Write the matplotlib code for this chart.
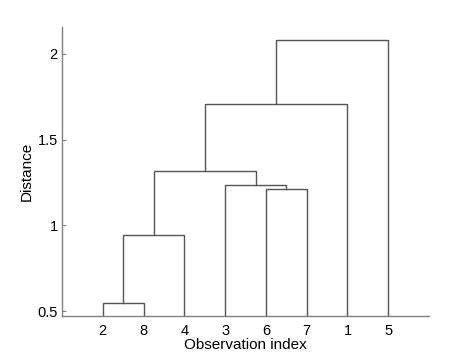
import matplotlib
matplotlib.use("Agg")
import matplotlib.pyplot as plt

plt.rcParams["font.family"] = ["Liberation Sans", "DejaVu Sans"]

# leaf order along the x axis (observation numbers)
leaf_order = [2, 8, 4, 3, 6, 7, 1, 5]

# merges: (left, right, height); "L<n>" = leaf n, "M<i>" = merge i
merges = [
    ("L2", "L8", 0.548),
    ("M0", "L4", 0.943),
    ("L6", "L7", 1.210),
    ("L3", "M2", 1.237),
    ("M1", "M3", 1.318),
    ("M4", "L1", 1.709),
    ("M5", "L5", 2.081),
]

leaf_x = {n: i + 1 for i, n in enumerate(leaf_order)}
node_pos = {}
for n in leaf_order:
    node_pos["L%d" % n] = (leaf_x[n], 0.0)

fig = plt.figure(figsize=(4.74, 3.55), dpi=100)
ax = fig.add_axes([0.1308, 0.1107, 0.7743, 0.8133])

line_col = "#555555"
for i, (a, b, h) in enumerate(merges):
    xa, ya = node_pos[a]
    xb, yb = node_pos[b]
    ax.plot([xa, xa, xb, xb], [ya, h, h, yb], color=line_col, lw=1.0,
            solid_joinstyle="miter", clip_on=True)
    node_pos["M%d" % i] = ((xa + xb) / 2.0, h)

ax.set_xlim(0, 9)
ax.set_ylim(0.4726, 2.1575)
ax.set_xticks(range(1, len(leaf_order) + 1))
ax.set_xticklabels([str(n) for n in leaf_order])
ax.set_yticks([0.5, 1, 1.5, 2])
ax.set_yticklabels(["0.5", "1", "1.5", "2"])

for s in ["top", "right"]:
    ax.spines[s].set_visible(False)
for s in ["left", "bottom"]:
    ax.spines[s].set_color("#808080")
    ax.spines[s].set_linewidth(1.0)

ax.tick_params(axis="both", direction="in", length=3, color="#808080",
               labelsize=10.5, labelcolor="black", pad=3)
ax.tick_params(axis="x", length=0, pad=6)

ax.set_xlabel("Observation index", fontsize=11, labelpad=0)
ax.set_ylabel("Distance", fontsize=11, labelpad=3)

fig.savefig("out.png", dpi=100)
